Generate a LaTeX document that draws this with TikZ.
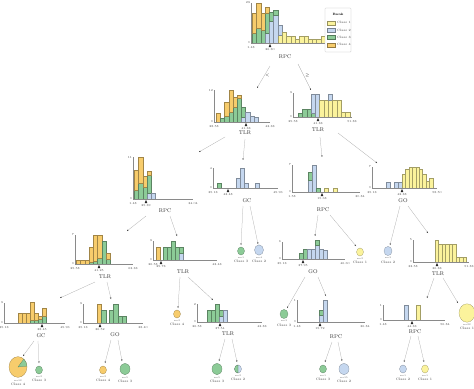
\documentclass[tikz,border=0pt]{standalone}
\usetikzlibrary{arrows.meta}
\definecolor{c1}{HTML}{FBF39C}
\definecolor{c2}{HTML}{C5D7EF}
\definecolor{c3}{HTML}{8CCB97}
\definecolor{c4}{HTML}{F7CC6C}
\definecolor{axc}{HTML}{8A8A8A}
\definecolor{edgec}{HTML}{A8A8A8}
\tikzset{
  axis/.style={draw=axc,line width=0.35pt},
  ytk/.style={font=\fontsize{4.3}{4.3}\selectfont,text=black!70,inner sep=0.5pt,anchor=east},
  xtk/.style={font=\fontsize{4.3}{4.3}\selectfont,text=black!70,inner sep=0pt},
  feat/.style={font=\fontsize{7.8}{7.8}\selectfont,text=black!80,inner sep=0pt},
  edge/.style={draw=edgec,line width=0.35pt,-{Stealth[length=2.4pt,width=1.8pt,black!80]}},
  elab/.style={font=\fontsize{6}{6}\selectfont,inner sep=0pt},
  leafn/.style={font=\fontsize{3.3}{3.3}\selectfont,text=black!70,inner sep=0pt},
  leafc/.style={font=\fontsize{4.8}{4.8}\selectfont,text=black!75,inner sep=0pt},
  legtxt/.style={font=\fontsize{4.5}{4.5}\selectfont,text=black!75,inner sep=0pt,anchor=west},
}
\newcommand\hb[3]{%
  \gdef\hbacc{0}%
  \foreach \hbh/\hbc in {#3}{%
    \filldraw[fill=\hbc,draw=\hbc!65!black,line width=0.15pt] (#1,-\hbacc) rectangle ++(#2,-\hbh);
    \pgfmathsetmacro\hbtmp{\hbacc+\hbh}%
    \xdef\hbacc{\hbtmp}%
  }%
}
\newcommand\histax[8]{%
  \draw[axis] (0,0) -- (0,-#2);
  \draw[axis] (0,0) -- (#1,0);
  \node[ytk] (#8yt) at (-0.5,-#2) {#3};
  \node[ytk] (#8yb) at (-0.5,0) {0};
  \node[xtk] (#8xa) at (0,5) {#4};
  \fill[black!85] (#5-1.3,4) -- (#5+1.3,4) -- (#5,0.8) -- cycle;
  \node[xtk] (#8xs) at (#5,7) {#6};
  \node[xtk] (#8xb) at (#1,5) {#7};
}
\newcommand\leaf[7]{%
  \filldraw[fill=#5,draw=#5!60!black,line width=0.3pt] (#2,#3) ellipse [x radius=#4, y radius={1.15*#4}];
  \coordinate (#1) at (#2,#3);
  \node[leafn] (#1n) at (#2,{#3+1.15*#4+2.5}) {n=#6};
  \node[leafc] (#1c) at (#2,{#3+1.15*#4+6.5}) {#7};
}
\begin{document}
\begin{tikzpicture}[x=0.05cm,y=-0.05cm]
\useasboundingbox (0,0) rectangle (474,389);
\fill[white] (0,0) rectangle (474,389);

% ---------- root RPC
\begin{scope}[shift={(251,43)}]
\hb{1}{4.3}{10/c3,20/c4}
\hb{5.3}{4.3}{15/c3,25/c4}
\hb{9.6}{4.3}{13/c3,17/c4}
\hb{13.9}{4.3}{10/c2,20/c3,6/c4}
\hb{18.2}{4.3}{22/c2,9/c3}
\hb{22.5}{4.3}{28/c2,5/c3}
\hb{26.8}{4.3}{8/c1,10/c2}
\hb{31.1}{4.3}{11/c1}
\hb{35.4}{4.3}{7/c1}
\hb{39.7}{4.3}{7/c1}
\hb{44}{4.3}{4/c1}
\hb{48.3}{4.3}{7/c1}
\hb{52.6}{4.3}{7/c1}
\hb{56.9}{4.3}{4/c1}
\hb{61.2}{4.3}{4/c1}
\hb{65.5}{4.3}{4/c1}
\hb{69.8}{4.3}{7/c1}
\hb{74.1}{4.3}{7/c1}
\hb{78.4}{4.3}{4/c1}
\hb{82.7}{4.3}{4/c1}
\histax{87}{40}{23}{1.48}{19}{26.30}{80.84}{r}
\end{scope}
\node[feat] (rF) at (285,57) {RPC};

% legend
\draw[draw=black!25,fill=white,line width=0.4pt,rounded corners=1pt] (325,8) rectangle (351,52);
\node[font=\bfseries\fontsize{4.5}{4.5}\selectfont,inner sep=0pt] (legT) at (338,14) {Rank};
\foreach \k/\cl/\yy in {1/c1/22.7,2/c2/30,3/c3/37.3,4/c4/44.7}{
  \filldraw[fill=\cl,draw=\cl!60!black,line width=0.2pt] (327.5,\yy-2) rectangle (335.5,\yy+2);
  \node[legtxt] (leg\k) at (337,\yy) {Class \k};
}

% ---------- level 1 left TLR
\begin{scope}[shift={(214,122)}]
\hb{2}{4.2}{9/c4}
\hb{6.2}{4.2}{4/c3}
\hb{10.4}{4.2}{6/c3,14/c4}
\hb{14.6}{4.2}{10/c3,22/c4}
\hb{18.8}{4.2}{15/c3,10/c4}
\hb{23}{4.2}{24/c3,3/c4}
\hb{27.2}{4.2}{5/c2,10/c3}
\hb{31.4}{4.2}{10/c2}
\hb{35.6}{4.2}{6/c2}
\hb{39.8}{4.2}{5/c2}
\histax{56}{32}{12}{28.58}{32}{41.33}{43.33}{a}
\end{scope}
\node[feat] (aF) at (245,133) {TLR};

% ---------- level 1 right TLR
\begin{scope}[shift={(293,117)}]
\hb{5}{4.3}{4/c3}
\hb{9.3}{4.3}{8/c3}
\hb{13.6}{4.3}{8/c3}
\hb{17.9}{4.3}{4/c3,19/c2}
\hb{22.2}{4.3}{23/c2}
\hb{26.5}{4.3}{17/c1}
\hb{30.8}{4.3}{17/c1}
\hb{35.1}{4.3}{17/c1,6/c2}
\hb{39.4}{4.3}{17/c1}
\hb{43.7}{4.3}{17/c1}
\hb{48}{4.3}{5/c1}
\hb{52.3}{4.3}{5/c1}
\histax{59}{24}{3}{29.58}{25}{41.33}{51.83}{b}
\end{scope}
\node[feat] (bF) at (318,130) {TLR};

% ---------- level 2 left RPC
\begin{scope}[shift={(133,199)}]
\hb{1}{4.3}{9/c3,20/c4}
\hb{5.3}{4.3}{16/c3,26/c4}
\hb{9.6}{4.3}{12/c3,11/c4}
\hb{13.9}{4.3}{6/c2,18/c3,4/c4}
\hb{18.2}{4.3}{6/c2}
\histax{60}{42}{11}{1.48}{13}{25.39}{34.04}{c}
\end{scope}
\node[feat] (cF) at (165,211) {RPC};

% ---------- level 2 GC
\begin{scope}[shift={(213,188)}]
\hb{4}{4.5}{5/c3}
\hb{23}{4}{10/c2}
\hb{27}{4}{20/c2}
\hb{31}{4}{5/c2}
\hb{42}{4}{5/c2}
\histax{65}{20}{4}{35.13}{15}{43.48}{49.96}{d}
\end{scope}
\node[feat] (dF) at (247,201) {GC};

% ---------- level 2 middle RPC
\begin{scope}[shift={(292,192)}]
\hb{16}{4}{12/c2,8/c3}
\hb{20}{4}{27/c2}
\hb{24}{4}{4/c3}
\hb{32}{4}{4/c1}
\hb{41}{4}{4/c1}
\histax{68}{27}{7}{1.58}{30}{15.68}{30.84}{e}
\end{scope}
\node[feat] (eF) at (323,210) {RPC};

% ---------- level 2 GO
\begin{scope}[shift={(372,188)}]
\hb{14}{4}{6/c2}
\hb{22}{4}{6/c2}
\hb{26}{4}{6/c2}
\foreach \xq/\hq in {30/14,33.4/19,36.8/21,40.2/21,43.6/21,47/19,50.4/14,53.8/7,57.2/10}{\hb{\xq}{3.4}{\hq/c1}}
\histax{65}{21}{7}{35.13}{30}{42.38}{58.50}{f}
\end{scope}
\node[feat] (fF) at (403,201) {GO};

% ---------- level 3 left TLR
\begin{scope}[shift={(75,264)}]
\hb{1}{4.3}{4/c4}
\hb{5.3}{4.3}{4/c4}
\hb{9.6}{4.3}{4/c4}
\hb{13.9}{4.3}{2/c3,15/c4}
\hb{18.2}{4.3}{3/c3,26/c4}
\hb{22.5}{4.3}{6/c3,23/c4}
\hb{26.8}{4.3}{23/c3}
\hb{31.1}{4.3}{5/c3,6/c4}
\histax{58}{29}{7}{25.58}{24}{41.25}{63.33}{g}
\end{scope}
\node[feat] (gF) at (105,277) {TLR};

% ---------- level 3 middle TLR
\begin{scope}[shift={(153,260)}]
\hb{3}{4}{13/c4}
\hb{10}{4}{13/c3}
\hb{14}{4}{13/c3}
\hb{18}{4}{19/c3}
\hb{22}{4}{13/c3}
\hb{26}{4}{7/c2,6/c3}
\histax{64}{19}{3}{26.58}{8}{29.73}{43.43}{h}
\end{scope}
\node[feat] (hF) at (183,272) {TLR};

% ---------- level 3 GO
\begin{scope}[shift={(282,259)}]
\hb{17}{4}{6/c3}
\hb{21}{4}{10/c3}
\hb{25}{4}{10/c2}
\hb{29}{4}{10/c2}
\hb{33}{4}{14/c2,5/c3}
\hb{37}{4}{10/c2}
\hb{41}{4}{9/c2}
\histax{63}{17}{6}{35.13}{21}{37.95}{46.60}{i}
\end{scope}
\node[feat] (iF) at (313,272) {GO};

% ---------- level 3 right TLR
\begin{scope}[shift={(413,262)}]
\foreach \xq/\hq in {22/22,25.5/18,29/18,32.5/18,36/18,39.5/18,43/5,46.5/5,50/5}{\hb{\xq}{3.5}{\hq/c1}}
\histax{56}{22}{5}{33.58}{24}{36.33}{51.83}{j}
\end{scope}
\node[feat] (jF) at (438,274) {TLR};

% ---------- level 4 GC
\begin{scope}[shift={(4,323)}]
\hb{14}{4}{10/c4}
\hb{18}{4}{10/c4}
\hb{22}{4}{10/c4}
\hb{26}{4}{3/c3,18/c4}
\hb{30}{4}{3/c3,7/c4}
\hb{34}{4}{4/c3,3/c4}
\hb{38}{4}{7/c3,8/c4}
\histax{61}{20}{3}{35.13}{38}{38.45}{49.96}{k}
\end{scope}
\node[feat] (kF) at (41,336) {GC};

% ---------- level 4 GO
\begin{scope}[shift={(83,323)}]
\hb{14}{4.3}{19/c4}
\hb{18.3}{4.3}{13/c3}
\hb{26}{4.3}{13/c3}
\hb{30.3}{4.3}{19/c3}
\hb{34.6}{4.3}{7/c3}
\hb{38.9}{4.3}{7/c3}
\histax{60}{19}{3}{35.13}{17}{36.52}{38.40}{l}
\end{scope}
\node[feat] (lF) at (115,335) {GO};

% ---------- level 4 TLR
\begin{scope}[shift={(197,322)}]
\hb{10}{4}{12/c3}
\hb{14}{4}{12/c3}
\hb{18}{4}{18/c3}
\hb{22}{4}{6/c2,6/c3}
\hb{26}{4}{12/c2}
\histax{65}{18}{2}{26.58}{23}{37.54}{43.83}{m}
\end{scope}
\node[feat] (mF) at (228,334) {TLR};

% ---------- level 4 middle RPC
\begin{scope}[shift={(297,322)}]
\hb{22}{4}{7/c2,5/c3}
\hb{26}{4}{22/c2}
\histax{68}{22}{1}{1.48}{23}{15.72}{36.84}{o}
\end{scope}
\node[feat] (oF) at (336,337) {RPC};

% ---------- level 4 right RPC
\begin{scope}[shift={(383,320)}]
\hb{21}{4.5}{15/c2}
\hb{33}{4.5}{15/c1}
\histax{62}{15}{1}{1.48}{29}{44.33}{56.84}{p}
\end{scope}
\node[feat] (pF) at (415,332) {RPC};

% ---------- leaves
\leaf{lA}{241}{251}{3.5}{c3}{1}{Class 3}
\leaf{lB}{259}{250}{4.5}{c2}{4}{Class 2}
\leaf{lC}{360}{252}{3.5}{c1}{2}{Class 1}
\leaf{lD}{388}{251}{4}{c2}{3}{Class 2}
\leaf{lE}{177}{314}{3.5}{c4}{2}{Class 4}
\leaf{lF}{284}{314}{4}{c3}{3}{Class 3}
\leaf{lG}{467}{313}{8}{c1}{22}{Class 1}
% big pie leaf
\filldraw[fill=c4,draw=c4!60!black,line width=0.3pt] (18,367) ellipse [x radius=9, y radius=10.35];
\filldraw[fill=c3,draw=c3!60!black,line width=0.3pt] (18,367) -- ++(-50:9 and 10.35) arc[start angle=-50,end angle=-5,x radius=9,y radius=10.35] -- cycle;
\coordinate (lH) at (18,367);
\node[leafn] (lHn) at (18,380.3) {n=12};
\node[leafc] (lHc) at (18,384.3) {Class 4};
\leaf{lI}{39}{370}{3.5}{c3}{2}{Class 3}
\leaf{lJ}{103}{370}{3.5}{c4}{2}{Class 4}
\leaf{lK}{125}{369}{5}{c3}{5}{Class 3}
\leaf{lL}{217}{369}{5}{c3}{5}{Class 3}
\leaf{lM}{238}{369}{3.5}{c2}{2}{Class 2}
\filldraw[fill=c3,draw=c3!60!black,line width=0.3pt] (238,369) -- ++(90:3.5 and 4.025) arc[start angle=90,end angle=270,x radius=3.5,y radius=4.025] -- cycle;
\leaf{lN}{323}{369}{3.5}{c3}{1}{Class 3}
\leaf{lO}{344}{369}{5}{c2}{15}{Class 2}
\leaf{lP}{403}{369}{3.5}{c2}{1}{Class 2}
\leaf{lQ}{425}{369}{3.5}{c1}{1}{Class 1}

% ---------- edges
\foreach \k/\xa/\ya/\xb/\yb in {
 1/270/66/257/88, 2/298/64/311/90,
 3/225/137/199/152, 4/245/139/243/160, 5/320/137/322/157, 6/338/133/377/163,
 7/146/216/127/231, 8/170/216/177/236, 9/243/206/241/245, 10/250/206/258/244,
 11/318/215/315/236, 12/330/215/356/246, 13/400/206/390/245, 14/408/206/428/233,
 15/95/282/60/298, 16/107/282/111/299, 17/180/277/178/308, 18/188/277/213/300,
 19/305/277/287/308, 20/318/277/326/296, 21/434/278/427/298, 22/443/278/458/303,
 23/34/341/23/356, 24/38/341/39/363, 25/111/340/105/363, 26/118/340/122/361,
 27/225/339/219/361, 28/232/339/237/362, 29/332/342/325/362, 30/338/342/342/361,
 31/411/336/404/362, 32/418/336/424/362}{
  \coordinate (s\k) at (\xa,\ya);
  \coordinate (t\k) at (\xb,\yb);
  \draw[edge] (s\k) -- (t\k);
}
\node[elab] (lt) at (267.5,75) {$<$};
\node[elab] (ge) at (307.5,75) {$\geq$};
\end{tikzpicture}
\end{document}
